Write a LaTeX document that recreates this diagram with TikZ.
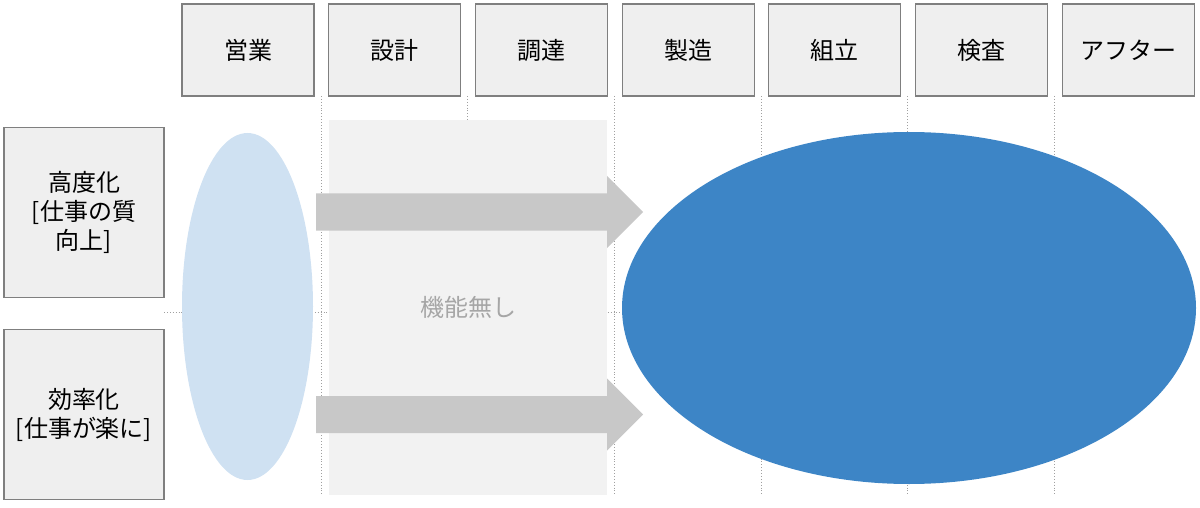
\documentclass[tikz,border=0pt]{standalone}
\usepackage{fontspec}
\setmainfont{Noto Sans CJK JP}
\usetikzlibrary{shapes.geometric}
\definecolor{boxfill}{HTML}{EFEFEF}
\definecolor{boxline}{HTML}{7F7F7F}
\definecolor{dotline}{HTML}{A0A0A0}
\definecolor{panel}{HTML}{F2F2F2}
\definecolor{arrowgray}{HTML}{C8C8C8}
\definecolor{lightblue}{HTML}{CFE1F2}
\definecolor{midblue}{HTML}{3D85C6}
\definecolor{paletext}{HTML}{A6A6A6}
\begin{document}
\begin{tikzpicture}[x=1pt,y=-1pt,
  phasebox/.style={draw=boxline,fill=boxfill,line width=1.2pt,minimum width=132pt,minimum height=92pt,inner sep=0pt,font=\fontsize{24}{29}\selectfont},
  sidebox/.style={draw=boxline,fill=boxfill,line width=1.2pt,minimum width=160pt,minimum height=170pt,inner sep=0pt,align=center,font=\fontsize{24}{29}\selectfont},
  guide/.style={draw=dotline,dotted,line width=0.9pt},
  blockarrow/.style={fill=arrowgray,draw=none}]
\useasboundingbox (0,0) rectangle (1200,508);
% guide lines
\foreach \i/\xx in {1/321,2/467.7,3/614.4,4/761,5/907.8,6/1054.5}{
  \coordinate (gt\i) at (\xx,96);
  \coordinate (gb\i) at (\xx,494);
  \draw[guide] (gt\i) -- (gb\i);
}
\coordinate (hl) at (164,312);
\coordinate (hr) at (1196,312);
\draw[guide] (hl) -- (hr);
% panel
\node[fill=panel,minimum width=278pt,minimum height=375pt,inner sep=0pt,text=paletext,font=\fontsize{24}{29}\selectfont] (panel) at (468,307.5) {機能無し};
% block arrows
\draw[blockarrow] (316,193.5) -- (607,193.5) -- (607,176) -- (643,212) -- (607,248) -- (607,230.5) -- (316,230.5) -- cycle;
\draw[blockarrow] (316,396) -- (607,396) -- (607,378.5) -- (643,414.5) -- (607,450.5) -- (607,433) -- (316,433) -- cycle;
% ellipses
\node[ellipse,fill=lightblue,minimum width=131pt,minimum height=347pt,inner sep=0pt] (lens) at (247.5,306.5) {};
\node[ellipse,fill=midblue,minimum width=574pt,minimum height=352pt,inner sep=0pt] (big) at (909,308) {};
% header boxes
\foreach \i/\t in {0/営業,1/設計,2/調達,3/製造,4/組立,5/検査,6/アフター}{
  \node[phasebox] (ph\i) at ({248+\i*146.7},50) {\t};
}
% side boxes
\node[sidebox] (adv) at (84,212.5) {高度化\\{[}仕事の質\\向上{]}};
\node[sidebox] (eff) at (84,414.5) {効率化\\{[}仕事が楽に{]}};
\end{tikzpicture}
\end{document}
